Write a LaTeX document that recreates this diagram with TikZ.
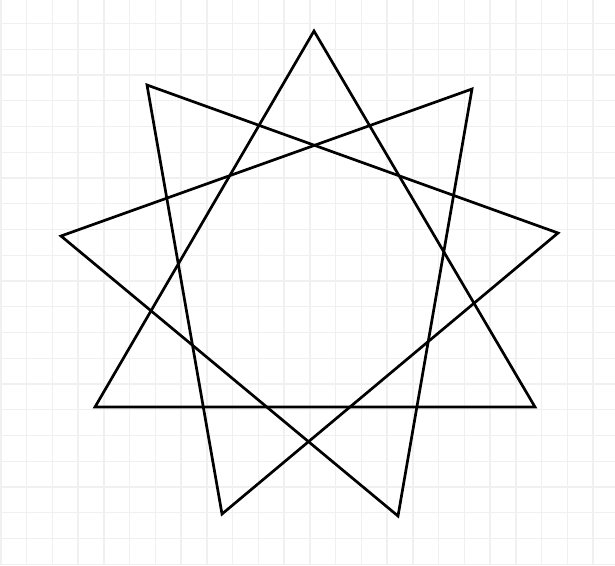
\documentclass[tikz,border=0pt]{standalone}
\definecolor{gridgray}{RGB}{240,240,240}
\tikzset{
  gridline/.style={draw=gridgray, line width=1.4},
  starline/.style={draw=black, line width=2.7, line join=miter}
}
\begin{document}
\begin{tikzpicture}[x=1pt,y=-1pt]
  \useasboundingbox (0,0) rectangle (615,565);
  \fill[white] (0,0) rectangle (615,565);
  % background grid
  \foreach \i in {0,...,23} {
    \draw[gridline] ({0.8+25.75*\i},0) -- ({0.8+25.75*\i},565);
  }
  \foreach \j in {1,...,22} {
    \draw[gridline] (0,{-2.25+25.75*\j}) -- (615,{-2.25+25.75*\j});
  }
  % vertices of the three triangles
  \coordinate (a1) at (314,31);
  \coordinate (a2) at (535,407);
  \coordinate (a3) at (95,407);
  \coordinate (b1) at (147,85);
  \coordinate (b2) at (558,233);
  \coordinate (b3) at (222,514);
  \coordinate (c1) at (472,89);
  \coordinate (c2) at (61,236);
  \coordinate (c3) at (398,516);
  \draw[starline] (a1) -- (a2) -- (a3) -- cycle;
  \draw[starline] (b1) -- (b2) -- (b3) -- cycle;
  \draw[starline] (c1) -- (c2) -- (c3) -- cycle;
\end{tikzpicture}
\end{document}
